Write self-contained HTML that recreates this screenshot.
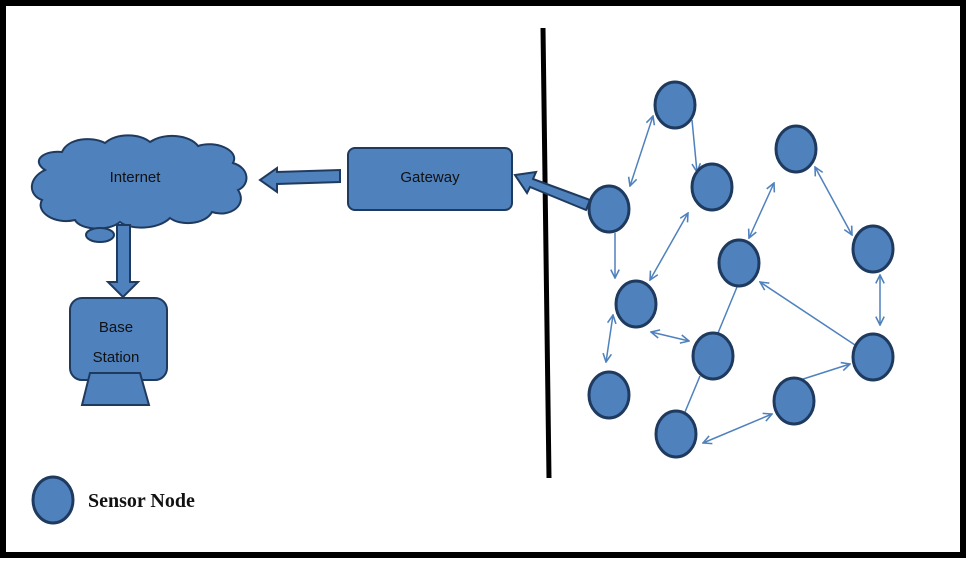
<!DOCTYPE html>
<html><head><meta charset="utf-8"><style>
html,body{margin:0;padding:0;background:#fff;}
svg{display:block;}
</style></head><body>
<svg width="969" height="562" viewBox="0 0 969 562" xmlns="http://www.w3.org/2000/svg">
<defs>
<marker id="a" viewBox="0 0 10 10" refX="9" refY="5" markerWidth="7" markerHeight="7" orient="auto-start-reverse"><path d="M1,1 L9,5 L1,9" fill="none" stroke="#4f81bd" stroke-width="1.5"/></marker>
</defs>
<rect x="3" y="3" width="960" height="552" fill="#fff" stroke="#000" stroke-width="6"/>
<line x1="543" y1="28" x2="549" y2="478" stroke="#000" stroke-width="5"/>
<!-- cloud -->
<g fill="#4f81bd" stroke="#1f3a5f" stroke-width="2">
<path d="M45,170 C30,160 45,150 62,152 C68,138 92,136 105,143 C118,132 140,134 150,142 C165,132 190,135 198,146 C215,140 240,150 233,163 C250,168 250,185 238,190 C248,205 230,218 212,212 C205,225 180,226 170,218 C158,230 130,230 120,222 C108,232 80,230 75,220 C55,225 35,212 42,200 C28,195 28,178 45,170 Z"/>
<ellipse cx="100" cy="235" rx="14" ry="7"/>
</g>
<text x="135" y="182" font-family="'Liberation Sans',sans-serif" font-size="15" fill="#111" text-anchor="middle">Internet</text>
<!-- arrow down -->
<path d="M117,225 L130,225 L130,282 L138,282 L123,297 L108,282 L117,282 Z" fill="#4f81bd" stroke="#1f3a5f" stroke-width="2"/>
<!-- base station -->
<rect x="70" y="298" width="97" height="82" rx="12" fill="#4f81bd" stroke="#1f3a5f" stroke-width="2"/>
<path d="M90,373 L140,373 L149,405 L82,405 Z" fill="#4f81bd" stroke="#1f3a5f" stroke-width="2"/>
<text x="116" y="332" font-family="'Liberation Sans',sans-serif" font-size="15" fill="#111" text-anchor="middle">Base</text>
<text x="116" y="362" font-family="'Liberation Sans',sans-serif" font-size="15" fill="#111" text-anchor="middle">Station</text>
<!-- gateway -->
<rect x="348" y="148" width="164" height="62" rx="7" fill="#4f81bd" stroke="#1f3a5f" stroke-width="2"/>
<text x="430" y="182" font-family="'Liberation Sans',sans-serif" font-size="15" fill="#111" text-anchor="middle">Gateway</text>
<path d="M340,170 L340,182 L277,184 L277,192 L260,180 L277,168 L277,172 Z" fill="#4f81bd" stroke="#1f3a5f" stroke-width="2"/>
<path d="M590,200 L586,210 L530,187 L527,193 L515,175 L536,172 L533,179 Z" fill="#4f81bd" stroke="#1f3a5f" stroke-width="2"/>
<!-- connectors -->
<g stroke="#4f81bd" stroke-width="1.5" fill="none">
<line x1="653" y1="116" x2="630" y2="186" marker-start="url(#a)" marker-end="url(#a)"/>
<line x1="692" y1="120" x2="697" y2="172" marker-end="url(#a)"/>
<line x1="615" y1="233" x2="615" y2="278" marker-end="url(#a)"/>
<line x1="688" y1="213" x2="650" y2="280" marker-start="url(#a)" marker-end="url(#a)"/>
<line x1="774" y1="183" x2="749" y2="238" marker-start="url(#a)" marker-end="url(#a)"/>
<line x1="815" y1="167" x2="852" y2="235" marker-start="url(#a)" marker-end="url(#a)"/>
<line x1="737" y1="287" x2="718" y2="333"/>
<line x1="855" y1="345" x2="760" y2="282" marker-end="url(#a)"/>
<line x1="880" y1="275" x2="880" y2="325" marker-start="url(#a)" marker-end="url(#a)"/>
<line x1="613" y1="315" x2="606" y2="362" marker-start="url(#a)" marker-end="url(#a)"/>
<line x1="651" y1="332" x2="689" y2="341" marker-start="url(#a)" marker-end="url(#a)"/>
<line x1="700" y1="376" x2="685" y2="412"/>
<line x1="703" y1="443" x2="772" y2="414" marker-start="url(#a)" marker-end="url(#a)"/>
<line x1="797" y1="381" x2="850" y2="364" marker-end="url(#a)"/>
</g>
<!-- nodes -->
<g fill="#4f81bd" stroke="#1f3a5f" stroke-width="3">
<ellipse cx="675" cy="105" rx="20" ry="23"/>
<ellipse cx="712" cy="187" rx="20" ry="23"/>
<ellipse cx="609" cy="209" rx="20" ry="23"/>
<ellipse cx="796" cy="149" rx="20" ry="23"/>
<ellipse cx="739" cy="263" rx="20" ry="23"/>
<ellipse cx="873" cy="249" rx="20" ry="23"/>
<ellipse cx="636" cy="304" rx="20" ry="23"/>
<ellipse cx="713" cy="356" rx="20" ry="23"/>
<ellipse cx="873" cy="357" rx="20" ry="23"/>
<ellipse cx="609" cy="395" rx="20" ry="23"/>
<ellipse cx="794" cy="401" rx="20" ry="23"/>
<ellipse cx="676" cy="434" rx="20" ry="23"/>
<ellipse cx="53" cy="500" rx="20" ry="23"/>
</g>
<text x="88" y="507" font-family="'Liberation Serif',serif" font-weight="bold" font-size="20" fill="#111">Sensor Node</text>
</svg>
</body></html>
